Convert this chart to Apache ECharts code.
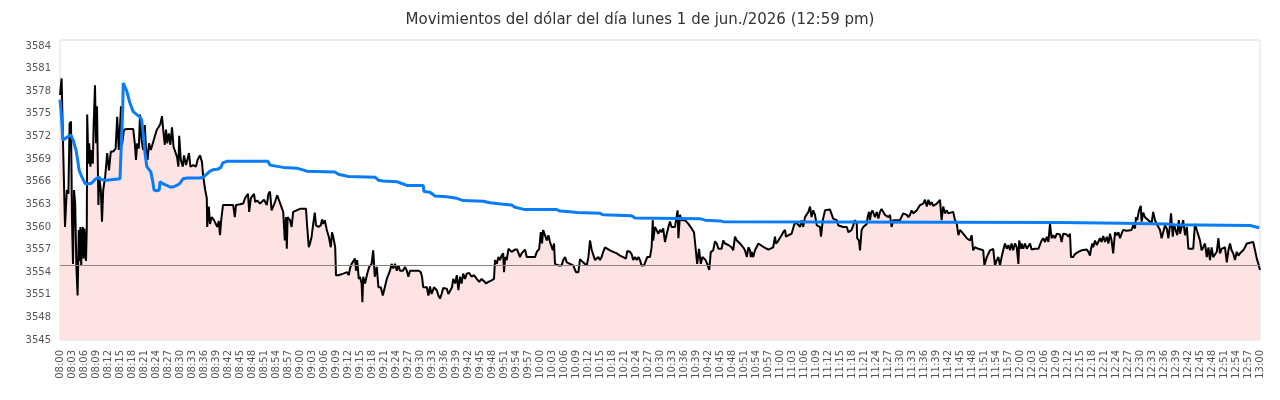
<!DOCTYPE html>
<html>
<head>
<meta charset="utf-8">
<script src="https://cdn.jsdelivr.net/npm/echarts@6/dist/echarts.min.js"></script>
<style>
html,body{margin:0;padding:0;background:#fff;}
#chart{width:1280px;height:400px;}
</style>
</head>
<body>
<div id="chart"></div>
<script>
// Title
const titleText = 'Movimientos del dólar del día lunes 1 de jun./2026 (12:59 pm)';
// Session start (minutes are counted from this time)
const startHour = 8;
// Y axis range and tick step
const yMin = 3545, yMax = 3584.8, yStep = 3;
// X axis: minutes since 08:00, label every 3 minutes
const xMin = 0, xMax = 300, xStep = 3;
// Reference level (grey horizontal line)
const refLevel = 3554.86;

// Price (black line) – minutes since 08:00
const priceMin = [
0,0.4,0.7,0.8,1.25,1.7,2.1,2.4,2.75,3,3.25,3.5,3.8,4.1,4.4,4.7,4.9,5.1,5.3,5.5,5.7,5.9,6,6.1,6.3,6.5,6.7,6.8,7.1,7.3,7.6,7.9,8.2,8.4,8.75,9,9.25,9.6,9.8,10.2,10.5,10.8,11.3,11.8,12.25,12.7,13.3,13.9,14.3,14.7,15,15.25,15.5,16,16.7,18.3,18.7,19,19.3,19.7,20,20.4,20.8,21.2,21.5,21.9,22.25,22.7,23.2,23.7,24.2,24.7,25.1,25.5,25.8,26.2,26.5,26.8,27.2,27.6,28,28.4,28.8,29.25,29.6,29.8,30.2,30.7,31,31.5,31.9,32.25,32.6,33.3,34,34.4,35,35.5,35.8,36.3,36.7,36.8,37.2,37.5,37.9,38.5,39,39.3,39.7,40,40.3,40.75,42.5,43.3,43.7,44,45,45.8,46.25,46.7,47,47.3,47.7,48.2,48.5,48.8,49.3,50,
51,51.7,52.1,52.5,52.9,53.3,53.75,54.3,54.8,55.2,55.8,56.2,56.5,56.7,56.9,57.5,57.9,58.3,58.75,60,61.5,61.8,62.2,62.5,62.9,63.3,63.7,64,64.6,65.2,65.5,65.8,66.2,66.7,67.2,67.7,68,68.3,68.8,69,69.6,70.8,71.8,72.2,72.5,72.9,73.3,73.75,74,74.3,74.7,75,75.4,75.6,75.8,76.25,76.8,77.3,77.9,78.3,78.7,79.2,79.6,80.2,80.7,81.2,81.7,82.1,82.5,82.9,83.3,83.75,84.2,84.6,85,85.7,86.25,86.7,87.1,87.5,88.3,89.6,90.2,90.5,90.8,91.25,91.7,92.1,92.5,92.9,93.5,94.2,94.6,95,95.4,95.8,96.25,96.7,97.1,97.5,98,98.3,98.8,99.2,99.6,100,100.4,100.8,101.25,101.7,102.3,102.9,103.5,104.2,104.8,105.4,106,106.5,107.1,107.9,108.5,108.75,109.2,109.6,110,110.4,110.8,111,111.3,111.7,112.1,112.5,
112.9,113.3,113.75,114.3,114.6,115,115.4,115.8,116.25,116.7,117.9,118.75,119.2,119.8,120.2,120.5,120.8,121.25,121.7,122.1,122.5,122.9,123.2,123.5,123.75,124.2,124.6,125,125.4,125.8,126.25,126.7,127.1,127.5,128.3,128.75,129,129.6,130,130.4,130.8,131.25,131.7,132.1,132.5,132.9,133.3,133.75,134.2,134.6,135,135.4,135.8,136.25,136.7,137.5,138.3,139.2,140,140.8,141.5,141.8,142.5,142.9,143.3,143.75,144.2,144.6,145,145.4,146,146.4,146.8,147.5,147.9,148.2,148.3,148.75,149.2,149.6,150,150.4,150.8,151.25,151.7,152.1,152.5,152.9,153.75,154.2,154.4,154.6,155,155.4,156.25,157.1,157.9,158.5,159,159.3,159.75,160.2,160.6,161,161.4,161.8,162.3,162.7,163.1,163.3,163.75,164.2,164.6,165,165.4,165.8,166.25,166.7,167.1,167.5,167.9,168.3,168.75,169.2,169.6,170,170.4,170.8,171.25,171.7,172.1,172.5,172.7,172.9,173.3,173.75,174.2,174.6,175,
175.7,177.1,177.5,178.3,178.75,179,179.6,180.4,180.8,181.25,181.5,182.1,182.9,183.3,183.6,184.2,185,185.4,185.8,186.25,186.7,187.1,187.5,187.9,188.3,188.75,189.2,189.6,190,190.25,190.7,191.25,191.7,192.5,192.9,193.3,194.2,194.6,195,195.8,196.7,197.1,197.5,197.9,198.3,198.75,199.2,199.3,199.75,200,200.4,200.8,201.25,201.7,201.9,202.25,202.5,202.75,203.1,203.3,203.75,204.2,204.6,205,205.4,205.8,206.25,206.7,207.1,207.5,207.9,208.3,208.75,209.2,210,210.4,210.8,211.25,211.7,212.1,212.5,212.9,213.3,213.75,214.2,214.6,215,215.4,215.8,216.25,216.7,217.1,217.5,217.9,218.3,218.75,219.2,219.6,220,220.4,220.8,221.25,221.7,222.1,222.5,223.3,223.75,224.2,224.6,225,225.4,225.8,226.25,226.7,227.1,227.5,227.9,228.3,228.75,229.6,230.8,231.1,231.7,232.5,233.3,233.75,234.2,234.6,235,
235.4,235.8,236.25,236.7,237.1,237.5,237.9,238.3,238.75,239.2,239.6,239.8,240.2,240.4,240.8,241.25,241.7,242.1,242.5,242.9,243.3,243.75,244.2,244.6,245,245.4,245.8,246.25,246.7,247.1,247.5,247.9,248.3,248.75,249.2,249.6,250,250.4,250.8,251.25,251.7,252.1,252.5,252.75,253.3,253.75,254.6,255.4,256.7,257.1,257.5,257.75,258.1,258.3,258.75,259.2,259.6,260,260.4,260.8,261.25,261.7,262.1,262.5,262.9,263.3,263.75,264.2,264.6,265,265.4,265.8,266.7,267.9,268.3,268.75,269,269.3,269.75,270.2,270.4,270.8,271.25,271.7,272.1,272.5,272.9,273.3,273.75,274.2,274.6,275,275.4,275.8,276.25,276.7,277.1,277.5,277.75,278.2,278.5,278.9,279.3,279.7,280,280.4,280.8,281.25,281.7,282.1,282.5,283.3,283.75,284.2,284.6,285,285.4,285.8,286.25,286.7,287.1,287.5,287.9,288.3,288.75,289.2,289.6,290,290.4,290.8,291.25,291.7,292.1,292.5,292.9,293.3,293.75,294.2,294.6,295,295.4,295.8,296.25,296.7,297.1,298.3,298.75,299.2,299.6,300
];
const priceVal = [
3577.5,3579.7,3579.5,3570.2,3560,3564.9,3564.4,3573.7,3574,3560.9,3555.1,3564.9,3563.1,3554.7,3550.9,3559.6,3555.5,3560,3554.9,3558.5,3560,3555.8,3556.7,3559.8,3560,3555.5,3560,3574.9,3568.4,3571.1,3568,3570.2,3568.4,3573.3,3578.8,3571.1,3576,3562.9,3566.7,3564.9,3560.7,3564.9,3566.7,3569.8,3567.5,3570,3570,3570.4,3574.6,3570.2,3573.3,3576,3570.9,3572.9,3573,3573,3571.1,3568.9,3571.1,3570.4,3574.9,3571.5,3570.2,3573.5,3570.4,3568.9,3571.1,3570.2,3571.1,3572,3572.9,3573.3,3573.7,3574.7,3572.9,3570.9,3572.9,3571.1,3572.4,3570.9,3573.2,3570.6,3570.4,3569.3,3568,3572.1,3568.9,3568,3569.5,3568.2,3568,3569.8,3568,3568.2,3568,3568.9,3569.5,3568.6,3566.7,3564.9,3563.8,3560,3562.7,3560.4,3561.3,3560.9,3560.9,3560,3560.8,3558.9,3560.9,3562.9,3562.9,3562.9,3561.3,3562.9,3563,3563.1,3563.8,3564,3564.4,3562,3563.8,3563.6,3564.4,3563.3,3563.5,3563.1,
3563.6,3562.9,3564.4,3564.7,3562.2,3562.0,3563.3,3564.2,3564.4,3562.9,3562.0,3558.2,3561.3,3557.1,3561.3,3560.9,3560.0,3562.0,3562.2,3562.4,3562.4,3560.0,3557.3,3557.8,3558.7,3560.4,3561.9,3560.2,3560.0,3560.2,3561.0,3560.4,3560.9,3559.6,3558.7,3557.3,3559.3,3558.7,3557.3,3553.6,3553.6,3553.8,3554.0,3553.6,3554.5,3555.1,3554.9,3555.8,3554.2,3555.6,3553.1,3553.4,3552.5,3550.0,3553.4,3552.5,3553.8,3554.7,3555.1,3556.9,3553.4,3554.7,3552.0,3552.0,3550.9,3552.0,3553.1,3552.9,3554.2,3555.1,3554.5,3555.1,3554.2,3554.9,3554.2,3554.2,3554.7,3554.2,3553.4,3554.2,3554.2,3554.2,3554.0,3553.4,3552.0,3552.2,3552.0,3550.9,3552.1,3551.1,3552.0,3551.6,3550.9,3550.5,3551.1,3551.9,3552.0,3551.8,3551.1,3550.9,3552.0,3553.1,3552.5,3553.6,3551.6,3553.4,3552.5,3553.8,3553.1,3553.8,3553.9,3553.4,3553.6,3553.1,3552.7,3553.1,3552.8,3552.5,3552.7,3552.9,3553.1,3555.6,3555.1,3556.0,3555.6,3556.2,3556.5,3554.0,3556.0,3555.6,3557.1,3557.3,
3556.7,3556.5,3557.0,3557.0,3557.1,3556.0,3556.5,3556.7,3557.0,3556.0,3556.0,3556.0,3556.7,3557.1,3559.3,3557.8,3559.6,3559.8,3558.2,3558.9,3558.0,3558.2,3556.9,3557.8,3555.1,3555.1,3554.9,3555.1,3554.9,3555.6,3556.0,3555.3,3555.3,3555.1,3554.9,3554.9,3554.0,3554.0,3555.7,3555.6,3555.3,3555.3,3554.9,3556.0,3558.2,3557.0,3557.0,3555.6,3555.8,3556.0,3555.6,3556.0,3556.7,3557.3,3557.1,3556.9,3556.7,3556.5,3556.2,3556.0,3555.8,3556.8,3556.7,3556.4,3555.6,3556.0,3555.6,3556.0,3555.6,3554.9,3554.9,3555.1,3556.0,3556.0,3557.3,3560.9,3558.2,3560.0,3560.0,3559.1,3559.6,3559.3,3559.8,3558.0,3559.1,3560.0,3560.7,3560.0,3560.0,3560.0,3562.2,3558.5,3561.6,3560.9,3560.9,3560.4,3559.8,3559.3,3559.1,3555.1,3557.1,3555.1,3556.0,3555.8,3555.6,3555.1,3554.3,3556.7,3556.7,3556.9,3558.1,3557.8,3557.1,3557.1,3557.1,3558.2,3557.8,3558.0,3557.6,3557.6,3557.3,3556.9,3558.7,3558.2,3558.0,3557.8,3557.8,3557.3,3556.9,3556.0,3557.3,3556.9,3556.0,3556.7,3556.0,3556.9,3557.1,3557.8,3557.6,
3557.4,3557.0,3556.8,3557.3,3558.7,3557.8,3558.2,3558.9,3559.3,3559.6,3558.7,3558.9,3559.1,3558.9,3560.4,3560.5,3560.0,3560.9,3560.0,3561.3,3561.3,3562.0,3562.7,3561.3,3562.2,3561.6,3560.2,3560.0,3560.0,3558.7,3560.9,3562.2,3562.4,3562.3,3562.2,3561.1,3560.9,3560.2,3560.2,3560.0,3560.0,3559.3,3559.1,3559.6,3560.2,3560.9,3560.4,3558.5,3558.2,3556.9,3559.6,3560.0,3560.2,3560.4,3561.3,3562.0,3560.9,3561.8,3562.2,3562.4,3561.3,3562.0,3561.1,3562.0,3562.4,3562.0,3561.6,3561.8,3561.3,3561.6,3560.0,3560.9,3560.7,3560.9,3560.9,3561.1,3561.8,3562.0,3561.6,3561.3,3561.6,3562.2,3561.8,3562.0,3562.2,3562.4,3562.9,3562.7,3563.1,3563.6,3562.7,3563.6,3562.9,3563.3,3562.8,3562.7,3563.1,3563.1,3563.6,3560.9,3562.7,3561.8,3562.2,3561.8,3562.0,3562.0,3560.9,3560.4,3558.9,3559.6,3559.8,3559.1,3559.3,3558.5,3558.7,3558.2,3558.9,3556.9,3557.3,3557.1,3556.9,3554.9,3556.0,3556.9,3557.1,3554.9,3555.6,3556.0,3554.9,
3556.0,3556.9,3557.8,3557.1,3557.6,3556.9,3557.8,3556.9,3557.8,3557.3,3555.1,3558.2,3557.1,3557.8,3557.1,3557.8,3557.1,3556.9,3557.8,3557.0,3556.9,3557.1,3556.9,3557.1,3557.3,3558.2,3558.5,3558.0,3558.7,3558.0,3560.4,3558.5,3558.9,3558.5,3559.1,3558.9,3559.0,3558.0,3559.1,3559.1,3559.0,3558.7,3559.1,3556.0,3556.0,3556.4,3556.7,3556.9,3557.0,3556.7,3556.2,3557.1,3557.8,3557.3,3558.2,3557.6,3557.8,3558.5,3558.0,3558.8,3558.0,3558.7,3557.8,3559.1,3558.2,3556.5,3559.3,3558.9,3559.3,3558.5,3559.1,3559.6,3559.5,3559.6,3560.2,3559.8,3561.3,3560.9,3562.2,3562.8,3560.7,3561.9,3561.3,3561.1,3560.9,3560.7,3560.5,3562.0,3560.9,3560.4,3560.0,3559.6,3558.5,3559.3,3560.2,3559.8,3558.5,3560.2,3561.8,3558.7,3560.4,3559.6,3558.9,3560.9,3559.1,3559.3,3560.9,3558.9,3560.0,3557.1,3557.0,3557.1,3560.4,3559.6,3559.6,3558.2,3556.9,3557.3,3557.8,3556.0,3557.3,3555.6,3557.3,3556.0,3556.0,3556.7,3558.5,3556.5,3557.1,3556.9,3557.3,3555.3,3556.9,3557.8,3556.9,3556.5,3555.6,3556.7,3556.2,3556.5,3556.7,3556.9,3557.3,3557.8,3558.0,3558.0,3556.9,3555.8,3555.1,3554.3
];

// Average (blue line)
const avgMin = [0,0.3,0.7,1.7,2.7,3.3,4,4.4,4.8,5.4,6.25,6.8,7.9,8.75,9.6,10.2,11.7,13.3,15,15.4,15.7,15.8,16.7,17.5,18.3,19.2,20,20.4,20.8,21.25,21.7,22.2,22.7,23.2,23.5,24.2,24.8,25,25.8,26.7,27.5,28.3,29.2,30,30.8,31.7,33.3,35,35.8,36.7,37.5,38.3,39.6,40.2,40.7,41.7,43.3,52,52.5,53,55.8,59.2,61.7,68.75,69.6,72.1,78.75,79.6,80.8,84.2,85.8,86.7,90.8,91,92.5,93.75,96.7,99.2,100.8,105.8,107.5,110.8,112.9,113.75,116.25,124.2,125,127.5,129.2,135,135.8,142.9,143.75,160,161.25,165,165.8,250.4,250.6,265.4,265.6,276.7,278.3,297.5,299.8];
const avgVal = [3576.9,3575.2,3571.5,3571.9,3572.2,3571.5,3570.2,3568.9,3567.5,3566.7,3565.8,3565.7,3565.8,3566.3,3566.6,3566.3,3566.2,3566.3,3566.4,3566.5,3576.0,3579.1,3578.0,3576.4,3575.3,3574.9,3574.6,3574.2,3572.4,3569.8,3568.0,3567.8,3567.3,3566.0,3564.9,3564.8,3564.9,3566.0,3565.7,3565.5,3565.3,3565.3,3565.5,3565.8,3566.4,3566.5,3566.5,3566.5,3566.6,3567.0,3567.4,3567.6,3567.7,3567.9,3568.5,3568.7,3568.7,3568.7,3568.2,3568.1,3567.9,3567.8,3567.4,3567.3,3567.0,3566.7,3566.6,3566.2,3566.1,3566.0,3565.7,3565.5,3565.5,3564.7,3564.6,3564.1,3564.0,3563.8,3563.5,3563.4,3563.2,3563.0,3562.9,3562.6,3562.3,3562.3,3562.1,3562.0,3561.9,3561.8,3561.6,3561.5,3561.2,3561.1,3560.9,3560.8,3560.7,3560.6,3560.5,3560.5,3560.4,3560.4,3560.3,3560.2,3559.9];

const zip = (a, b) => a.map((x, i) => [x, b[i]]);
const pad = n => (n < 10 ? '0' : '') + n;
const fmtTime = m => { const h = startHour + Math.floor(m / 60); return pad(h) + ':' + pad(Math.round(m % 60)); };

const chart = echarts.init(document.getElementById('chart'), null, {renderer: 'canvas'});
chart.setOption({
  animation: false,
  backgroundColor: '#fff',
  textStyle: {fontFamily: 'DejaVu Sans'},
  title: {
    text: titleText, left: 'center', top: 8,
    textStyle: {fontFamily: 'DejaVu Sans', fontSize: 15, fontWeight: 'normal', color: '#333'}
  },
  grid: {left: 60, right: 20, top: 40, bottom: 60, show: true, borderColor: '#dddddd', borderWidth: 1, backgroundColor: 'transparent'},
  xAxis: {
    type: 'value', min: xMin, max: xMax, interval: xStep,
    axisLine: {show: false}, axisTick: {show: false}, splitLine: {show: false},
    axisLabel: {rotate: 90, fontSize: 10, color: '#555', margin: 10, fontFamily: 'DejaVu Sans', formatter: v => fmtTime(v)}
  },
  yAxis: {
    type: 'value', min: yMin, max: yMax, interval: yStep,
    axisLine: {show: false}, axisTick: {show: false}, splitLine: {show: false},
    axisLabel: {fontSize: 10, color: '#555', margin: 9, fontFamily: 'DejaVu Sans', showMaxLabel: false, formatter: v => String(Math.round(v))}
  },
  series: [
    {
      type: 'line', data: zip(priceMin, priceVal), showSymbol: false, symbol: 'none',
      lineStyle: {color: '#000', width: 2}, itemStyle: {color: '#000'},
      areaStyle: {color: '#fde3e3', opacity: 1, origin: 'start'},
      z: 3,
      markLine: {
        silent: true, symbol: 'none', label: {show: false},
        lineStyle: {color: '#8c8080', width: 1, type: 'solid'},
        data: [{yAxis: refLevel}]
      }
    },
    {
      type: 'line', data: zip(avgMin, avgVal), showSymbol: false, symbol: 'none',
      lineStyle: {color: '#0a7cf5', width: 3}, itemStyle: {color: '#0a7cf5'}, z: 4
    }
  ]
});
</script>
</body>
</html>
